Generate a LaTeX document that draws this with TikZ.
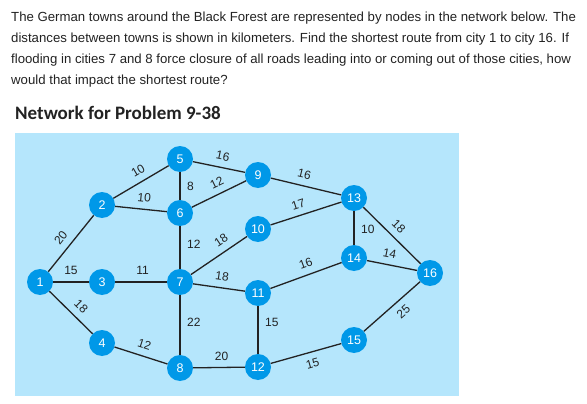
\documentclass[tikz,border=0pt]{standalone}
\usepackage{fontspec}
\setmainfont{Liberation Sans}
\newfontfamily\titlefont{Carlito}
\usepackage{xcolor}
\definecolor{forestbg}{HTML}{B5E6FC}
\definecolor{cityblue}{HTML}{0098E8}
\definecolor{roadgray}{HTML}{222222}

\begin{document}
\begin{tikzpicture}[x=1pt,y=-1pt,
  city/.style={circle,fill=cityblue,text=white,inner sep=0pt,minimum size=26pt,font=\fontsize{12.5}{12.5}\selectfont},
  road/.style={draw=roadgray,line width=1.3pt},
  dist/.style={font=\fontsize{12}{12}\selectfont,text=roadgray,inner sep=1pt},
  up/.style={dist,above=5.5pt},
  down/.style={dist,below=5.5pt},
  side/.style={dist,right=5.5pt},
  prose/.style={anchor=base west,inner sep=0pt,text=roadgray,font=\fontsize{13.2}{13.2}\selectfont}]
\useasboundingbox (0,0) rectangle (587,404);
% Problem text
\node[prose] (line1) at (11,21.5) {The German towns around the Black Forest are represented by nodes in the network below. The};
\node[prose] (line2) at (11,42.5) {distances between towns is shown in kilometers. Find the shortest route from city 1 to city 16. If};
\node[prose] (line3) at (11,63.5) {flooding in cities 7 and 8 force closure of all roads leading into or coming out of those cities, how};
\node[prose] (line4) at (11,84.5) {would that impact the shortest route?};
\node[prose,font=\titlefont\bfseries\fontsize{19}{19}\selectfont] (title) at (15,120) {Network for Problem 9-38};
% Background
\fill[forestbg] (15,133) rectangle (459,396);
% Cities
\node[city] (c1) at (40,282) {1};
\node[city] (c2) at (102,205) {2};
\node[city] (c3) at (102,282) {3};
\node[city] (c4) at (102,343) {4};
\node[city] (c5) at (180,159) {5};
\node[city] (c6) at (180,213) {6};
\node[city] (c7) at (180,282) {7};
\node[city] (c8) at (180,368) {8};
\node[city] (c9) at (258,175) {9};
\node[city] (c10) at (258,229) {10};
\node[city] (c11) at (258,293) {11};
\node[city] (c12) at (258,367) {12};
\node[city] (c13) at (354,198) {13};
\node[city] (c14) at (354,258) {14};
\node[city] (c15) at (354,340) {15};
\node[city] (c16) at (430,273) {16};
% Roads
\draw[road] (c1) -- node[up,sloped,pos=.47]{20} (c2);
\draw[road] (c1) -- node[up]{15} (c3);
\draw[road] (c1) -- node[up,sloped,pos=.55]{18} (c4);
\draw[road] (c2) -- node[up,sloped,pos=.55]{10} (c5);
\draw[road] (c2) -- node[up,sloped,pos=.54]{10} (c6);
\draw[road] (c3) -- node[up,pos=.53]{11} (c7);
\draw[road] (c4) -- node[up,sloped]{12} (c8);
\draw[road] (c5) -- node[side]{8} (c6);
\draw[road] (c5) -- node[up,sloped,pos=.53]{16} (c9);
\draw[road] (c6) -- node[up,sloped,pos=.55]{12} (c9);
\draw[road] (c6) -- node[side,pos=.43]{12} (c7);
\draw[road] (c7) -- node[up,sloped,pos=.65]{18} (c10);
\draw[road] (c7) -- node[up,sloped,pos=.53]{18} (c11);
\draw[road] (c7) -- node[side,pos=.45]{22} (c8);
\draw[road] (c8) -- node[up,pos=.55]{20} (c12);
\draw[road] (c9) -- node[up,sloped,pos=.44]{16} (c13);
\draw[road] (c10) -- node[up,sloped,pos=.44]{17} (c13);
\draw[road] (c11) -- node[side,pos=.35]{15} (c12);
\draw[road] (c11) -- node[up,sloped,pos=.55]{16} (c14);
\draw[road] (c12) -- node[down,sloped,pos=.55]{15} (c15);
\draw[road] (c13) -- node[side,pos=.55]{10} (c14);
\draw[road] (c13) -- node[up,sloped,pos=.48]{18} (c16);
\draw[road] (c14) -- node[up,sloped,pos=.41]{14} (c16);
\draw[road] (c15) -- node[down,sloped,pos=.57]{25} (c16);
\end{tikzpicture}
\end{document}
